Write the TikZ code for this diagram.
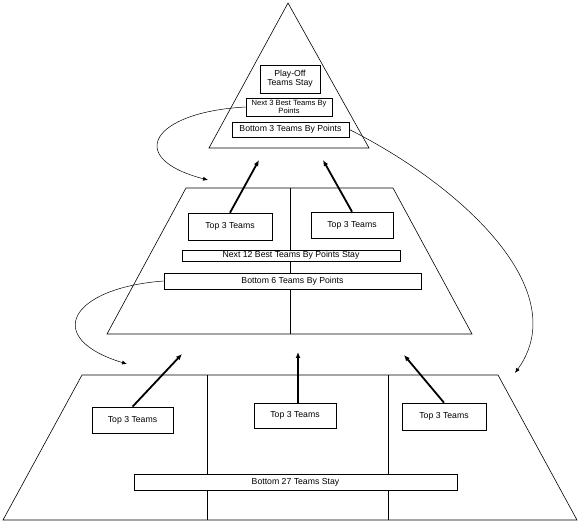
\documentclass[tikz,border=0pt]{standalone}
\usepackage{fontspec}
\setmainfont{Liberation Sans}
\usetikzlibrary{arrows.meta}

\begin{document}
\begin{tikzpicture}[x=1pt,y=-1pt,
	trait/.style={line width=0.6pt},
	boite/.style={draw,line width=0.6pt,fill=white,rectangle,inner sep=0pt,align=center,font=\fontsize{8.7}{9.5}\selectfont},
	fleche/.style={-{Latex[length=6pt,width=5pt]},line width=1.8pt},
	courbe/.style={-{Latex[length=5pt,width=4pt]},line width=0.5pt}]
	\useasboundingbox (0,0) rectangle (582,524);

		%niveau 1 : triangle
		\draw[trait] (288,3) -- (369,148) -- (209,148) -- cycle;
		%niveau 2 : trapeze coupe en deux
		\draw[trait] (186,188) -- (393,188) -- (472,334) -- (107,334) -- cycle;
		\draw[trait] (290,188) -- (290,334);
		%niveau 3 : trapeze coupe en trois
		\draw[trait] (82,375) -- (498,375) -- (577,520) -- (3,520) -- cycle;
		\draw[trait] (207,375) -- (207,520);
		\draw[trait] (388,375) -- (388,520);

		%\node (nom node) at(x,y) [options] {affichage} ;
		\node (playoff) at(290, 79) [boite,minimum width=60,minimum height=28] {Play-Off\\Teams Stay} ;
		\node (next three) at(289, 107) [boite,minimum width=86,minimum height=18,font=\fontsize{7.6}{8}\selectfont] {Next 3 Best Teams By\\Points} ;
		\node (bottom three) at(290.5, 129.5) [boite,minimum width=117,minimum height=15] {Bottom 3 Teams By Points} ;

		\node (mid top 1) at(230, 226.5) [boite,minimum width=84,minimum height=27] {Top 3 Teams} ;
		\node (mid top 2) at(352, 225) [boite,minimum width=82,minimum height=26] {Top 3 Teams} ;
		\node (next twelve) at(291, 255.5) [boite,minimum width=218,minimum height=11] {Next 12 Best Teams By Points Stay} ;
		\node (bottom six) at(292.5, 281) [boite,minimum width=257,minimum height=16] {Bottom 6 Teams By Points} ;

		\node (low top 1) at(132.5, 420) [boite,minimum width=81,minimum height=26] {Top 3 Teams} ;
		\node (low top 2) at(295, 415.5) [boite,minimum width=82,minimum height=25] {Top 3 Teams} ;
		\node (low top 3) at(444, 416.5) [boite,minimum width=84,minimum height=27] {Top 3 Teams} ;
		\node (bottom stay) at(295.5, 482) [boite,minimum width=323,minimum height=16] {Bottom 27 Teams Stay} ;

		%bouts libres des fleches
		\coordinate (up 1) at(259, 160) ;
		\coordinate (up 2) at(323, 160) ;
		\coordinate (up 3) at(182, 354) ;
		\coordinate (up 4) at(298, 352) ;
		\coordinate (up 5) at(404, 355) ;
		\coordinate (down 1) at(208, 180) ;
		\coordinate (down 2) at(127, 364) ;
		\coordinate (down 3) at(515, 373) ;

		%montees
		\path
		(mid top 1.north) edge[fleche] (up 1)
		(mid top 2.north) edge[fleche] (up 2)
		(low top 1.north) edge[fleche] (up 3)
		([xshift=3]low top 2.north) edge[fleche] (up 4)
		(low top 3.north) edge[fleche] (up 5)
		;

		%descentes
		\draw[courbe] (next three.west) .. controls (152,112) and (124,158) .. (down 1);
		\draw[courbe] (bottom six.west) .. controls (70,288) and (42,338) .. (down 2);
		\draw[courbe] (bottom three.east) .. controls (460,185) and (575,290) .. (down 3);
	\end{tikzpicture}
\end{document}
